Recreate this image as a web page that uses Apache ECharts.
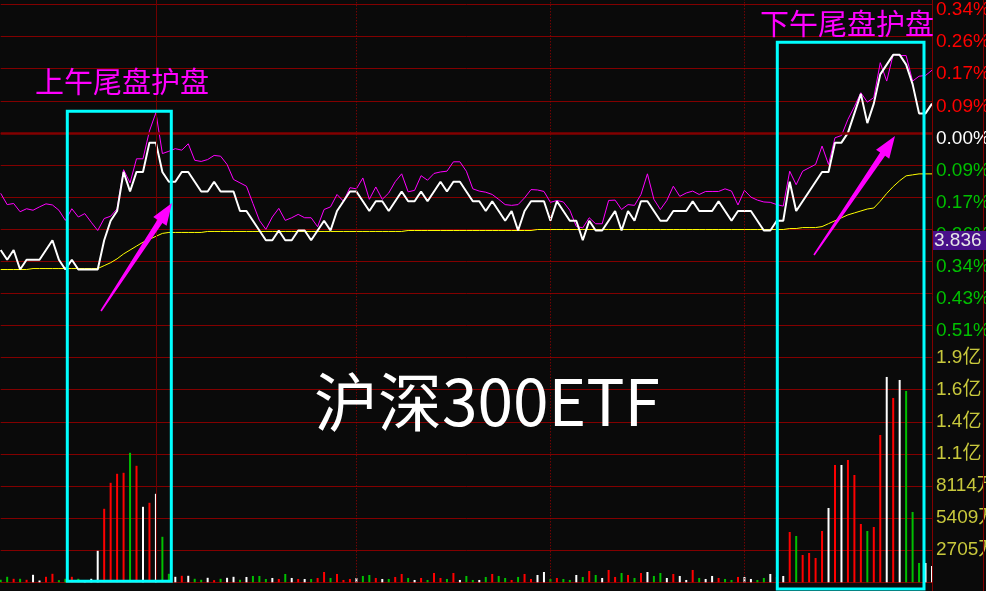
<!DOCTYPE html>
<html><head><meta charset="utf-8">
<script src="https://cdn.jsdelivr.net/npm/echarts@6/dist/echarts.min.js"></script>
<style>html,body{margin:0;padding:0;background:#0a0a0a;overflow:hidden}#c{width:986px;height:591px}</style>
</head><body><div id="c"></div>
<script>
// previous close of the ETF
const prevClose = 3.847;
// last price per minute (white)
const price = [3.835,3.834,3.835,3.833,3.834,3.834,3.834,3.835,3.836,3.834,
3.833,3.834,3.833,3.833,3.833,3.833,3.836,3.838,3.839,3.843,
3.841,3.843,3.843,3.846,3.846,3.843,3.842,3.842,3.843,3.843,
3.842,3.841,3.841,3.842,3.841,3.841,3.841,3.839,3.839,3.838,
3.837,3.836,3.836,3.837,3.836,3.836,3.837,3.837,3.836,3.837,
3.838,3.837,3.839,3.840,3.841,3.841,3.840,3.839,3.840,3.840,
3.839,3.840,3.841,3.840,3.840,3.841,3.840,3.841,3.842,3.841,
3.842,3.842,3.841,3.840,3.840,3.839,3.840,3.839,3.838,3.839,
3.837,3.839,3.840,3.840,3.840,3.838,3.840,3.839,3.838,3.838,
3.836,3.838,3.837,3.837,3.838,3.839,3.837,3.839,3.838,3.840,
3.840,3.839,3.838,3.838,3.839,3.839,3.839,3.840,3.839,3.839,
3.839,3.840,3.839,3.838,3.839,3.839,3.839,3.838,3.837,3.837,
3.838,3.838,3.842,3.839,3.840,3.841,3.842,3.843,3.843,3.846,
3.846,3.847,3.849,3.851,3.848,3.850,3.853,3.854,3.855,3.855,
3.854,3.852,3.849,3.849,3.850];
// average price (yellow)
const avgPrice = [3.8330,3.8330,3.8330,3.8330,3.8330,3.8331,3.8331,3.8331,3.8331,3.8331,
3.8331,3.8331,3.8331,3.8331,3.8331,3.8331,3.8334,3.8337,3.8341,3.8346,
3.8350,3.8354,3.8358,3.8361,3.8364,3.8367,3.8368,3.8368,3.8368,3.8368,
3.8368,3.8368,3.8369,3.8369,3.8369,3.8369,3.8369,3.8369,3.8369,3.8369,
3.8369,3.8369,3.8369,3.8369,3.8369,3.8369,3.8369,3.8369,3.8369,3.8369,
3.8369,3.8369,3.8369,3.8369,3.8369,3.8369,3.8369,3.8369,3.8369,3.8369,
3.8369,3.8369,3.8369,3.8370,3.8370,3.8370,3.8370,3.8370,3.8370,3.8370,
3.8370,3.8370,3.8370,3.8370,3.8370,3.8370,3.8370,3.8370,3.8370,3.8370,
3.8370,3.8370,3.8370,3.8371,3.8371,3.8371,3.8371,3.8371,3.8371,3.8371,
3.8371,3.8371,3.8371,3.8371,3.8371,3.8371,3.8371,3.8371,3.8371,3.8371,
3.8371,3.8371,3.8371,3.8371,3.8371,3.8371,3.8371,3.8371,3.8371,3.8371,
3.8371,3.8371,3.8371,3.8371,3.8371,3.8371,3.8371,3.8371,3.8371,3.8371,
3.8371,3.8371,3.8372,3.8372,3.8373,3.8373,3.8373,3.8374,3.8377,3.8380,
3.8383,3.8386,3.8388,3.8390,3.8392,3.8393,3.8400,3.8408,3.8415,3.8421,
3.8426,3.8427,3.8428,3.8428,3.8428];
// benchmark index change in % (magenta)
const indexPct = [-0.161,-0.191,-0.188,-0.210,-0.202,-0.206,-0.197,-0.189,-0.192,-0.206,
-0.233,-0.202,-0.224,-0.215,-0.238,-0.260,-0.228,-0.222,-0.202,-0.098,
-0.133,-0.069,-0.069,0.005,0.054,-0.055,-0.049,-0.042,-0.046,-0.029,
-0.073,-0.076,-0.071,-0.060,-0.062,-0.084,-0.124,-0.133,-0.142,-0.188,
-0.233,-0.257,-0.224,-0.201,-0.233,-0.226,-0.217,-0.226,-0.226,-0.250,
-0.204,-0.197,-0.164,-0.182,-0.146,-0.149,-0.120,-0.177,-0.144,-0.177,
-0.160,-0.130,-0.109,-0.157,-0.153,-0.114,-0.126,-0.108,-0.104,-0.102,
-0.077,-0.077,-0.102,-0.149,-0.155,-0.158,-0.164,-0.177,-0.191,-0.193,
-0.191,-0.173,-0.151,-0.152,-0.156,-0.185,-0.180,-0.184,-0.206,-0.249,
-0.253,-0.226,-0.242,-0.242,-0.180,-0.179,-0.204,-0.191,-0.193,-0.164,
-0.109,-0.177,-0.204,-0.180,-0.142,-0.169,-0.160,-0.155,-0.164,-0.156,
-0.156,-0.156,-0.149,-0.155,-0.192,-0.153,-0.171,-0.179,-0.184,-0.185,
-0.191,-0.195,-0.102,-0.138,-0.102,-0.093,-0.084,-0.035,-0.084,-0.013,
-0.007,0.036,0.070,0.107,0.082,0.094,0.187,0.138,0.209,0.206,
0.206,0.138,0.151,0.153,0.167];
// volume per minute, in 万
const volume = [211,463,295,295,211,632,150,463,716,180,
295,463,295,180,295,2654,6193,8384,9142,9226,
10912,9816,6362,6699,7457,3834,716,463,548,548,
295,211,379,180,295,379,463,211,450,534,
534,281,365,281,702,365,281,281,281,365,
870,365,702,197,281,365,534,618,365,281,
281,450,702,365,197,365,197,786,365,281,
786,197,534,197,197,450,702,534,365,197,
450,702,281,618,870,281,365,281,197,618,
450,955,618,365,1039,450,786,618,365,786,
870,534,786,365,702,534,197,1039,365,281,
534,365,281,197,450,450,281,197,365,702,
450,534,4240,3904,2303,2471,2050,4325,6263,9886,
9886,10307,9043,4915,4325,4662,12414,17302,15533,17048,
16123,5926,1629,1629,1376];
// 1 = up (red), -1 = down (green), 0 = flat (white)
const volDir = [-1,-1,1,-1,1,0,0,1,1,-1,
-1,1,-1,0,0,0,1,1,1,1,
-1,1,0,1,0,-1,-1,0,1,0,
-1,-1,0,1,-1,0,0,-1,0,-1,
-1,-1,0,1,-1,0,1,0,-1,1,
1,-1,1,1,1,0,-1,-1,1,0,
-1,1,1,-1,0,1,-1,1,1,-1,
1,0,-1,-1,0,-1,1,-1,-1,1,
-1,1,1,0,0,-1,1,-1,-1,0,
-1,1,-1,0,1,1,-1,1,-1,1,
0,-1,-1,0,1,0,0,1,-1,0,
0,1,-1,-1,1,0,0,-1,-1,0,
1,0,1,-1,1,1,1,1,0,1,
0,1,1,1,-1,1,1,0,1,0,
-1,-1,-1,0,0];
// axis settings (percent step and volume step in 万)
const pctStep = 0.0855;
const pctMinSteps = -6, pctMaxSteps = 4;
const volStep = 2704.6;
const volSteps = 7;
// special markers
const breakIndex = 24;              // midday break line
const halfHourIndex = [55, 85, 115]; // dotted half-hour lines
const markerPrice = '3.836';
const titleText = '沪深300ETF';
const noteAM = '上午尾盘护盘';
const notePM = '下午尾盘护盘';

const categories = price.map((_, i) => String(i));
const toPct = p => (p / prevClose - 1) * 100;

const chart = echarts.init(document.getElementById('c'), null, {renderer: 'canvas'});

const GRID_L = 0.7, GRID_R = 54, TOP = 4.5, ROW = 32.1;
const RED = '#ff0000', GREEN = '#00c000', WHITE = '#ffffff';
const GRIDC = '#820000';
const labelFont = '"Liberation Sans", Arial, "Noto Sans CJK SC"';
const LF = 19;

function arrow(x1, y1, x2, y2, hl, hw, w1, w2) {
  const dx = x2 - x1, dy = y2 - y1, L = Math.hypot(dx, dy);
  const ux = dx / L, uy = dy / L, nx = -uy, ny = ux;
  const bx = x2 - ux * hl, by = y2 - uy * hl;
  return [
    [x1 + nx * w1, y1 + ny * w1],
    [bx + nx * w2, by + ny * w2],
    [bx + nx * hw, by + ny * hw],
    [x2, y2],
    [bx - nx * hw, by - ny * hw],
    [bx - nx * w2, by - ny * w2],
    [x1 - nx * w1, y1 - ny * w1]
  ];
}

const gridBase = {left: GRID_L, right: GRID_R, containLabel: false, outerBoundsMode: 'none'};

const option = {
  animation: false,
  backgroundColor: '#0a0a0a',
  grid: [
    Object.assign({top: TOP, height: ROW * 10}, gridBase),
    Object.assign({top: TOP + ROW * 11, height: ROW * volSteps}, gridBase),
    Object.assign({top: 0, height: TOP + ROW * 18}, gridBase)
  ],
  xAxis: [0, 1, 2].map(g => ({
    type: 'category', gridIndex: g, data: categories, boundaryGap: false,
    axisLine: {show: false}, axisTick: {show: false}, axisLabel: {show: false}, splitLine: {show: false}
  })),
  yAxis: [
    {
      type: 'value', gridIndex: 0, position: 'right',
      min: pctMinSteps * pctStep, max: pctMaxSteps * pctStep, interval: pctStep,
      axisLine: {show: false}, axisTick: {show: false},
      splitLine: {show: true, lineStyle: {color: GRIDC, width: 1}},
      axisLabel: {
        show: true, inside: false, margin: 4, align: 'left', verticalAlign: 'middle',
        padding: [11, 0, 0, 0], showMinLabel: true, showMaxLabel: true,
        fontSize: LF, fontFamily: labelFont,
        formatter: v => {
          const s = Math.abs(v).toFixed(2) + '%';
          if (Math.abs(v) < 1e-6) return '{w|0.00%}';
          return v > 0 ? '{r|' + s + '}' : '{g|' + s + '}';
        },
        rich: {
          r: {color: RED, fontSize: LF, fontFamily: labelFont},
          g: {color: GREEN, fontSize: LF, fontFamily: labelFont},
          w: {color: WHITE, fontSize: LF, fontFamily: labelFont}
        }
      }
    },
    {
      type: 'value', gridIndex: 1, position: 'right',
      min: 0, max: volStep * volSteps, interval: volStep,
      axisLine: {show: false}, axisTick: {show: false},
      splitLine: {show: true, lineStyle: {color: GRIDC, width: 1}},
      axisLabel: {
        show: true, margin: 4, align: 'left', verticalAlign: 'middle',
        padding: [11, 0, 0, 0], showMinLabel: true, showMaxLabel: true,
        color: '#c8c83c', fontSize: LF, fontFamily: labelFont,
        formatter: v => {
          if (v < 1) return '';
          if (v >= 10000) return (v / 10000).toFixed(1) + '亿';
          return Math.round(v) + '万';
        }
      }
    },
    {type: 'value', gridIndex: 2, min: 0, max: 1, show: false}
  ],
  series: [
    {
      type: 'line', xAxisIndex: 2, yAxisIndex: 2, data: [], silent: true, z: 1,
      markLine: {
        silent: true, symbol: ['none', 'none'], label: {show: false},
        data: [{xAxis: breakIndex, lineStyle: {type: 'solid', color: '#700000', width: 1}}]
          .concat(halfHourIndex.map(i => ({xAxis: i, lineStyle: {type: [1, 2], color: '#a00000', width: 1}})))
      }
    },
    {
      type: 'line', xAxisIndex: 0, yAxisIndex: 0, data: [], silent: true, z: 1,
      markLine: {
        silent: true, symbol: ['none', 'none'], label: {show: false},
        data: [{yAxis: 0, lineStyle: {type: 'solid', color: GRIDC, width: 2.5}}]
      }
    },
    {
      name: 'index', type: 'line', xAxisIndex: 0, yAxisIndex: 0, data: indexPct,
      symbol: 'none', lineStyle: {color: '#ff00ff', width: 1}, z: 3
    },
    {
      name: 'avg', type: 'line', xAxisIndex: 0, yAxisIndex: 0, data: avgPrice.map(toPct),
      symbol: 'none', lineStyle: {color: '#ffff00', width: 1}, z: 3
    },
    {
      name: 'price', type: 'line', xAxisIndex: 0, yAxisIndex: 0, data: price.map(toPct),
      symbol: 'none', lineStyle: {color: WHITE, width: 2}, z: 4
    },
    {
      name: 'volume', type: 'bar', xAxisIndex: 1, yAxisIndex: 1, barWidth: 2,
      data: volume.map((v, i) => ({
        value: v,
        itemStyle: {color: volDir[i] > 0 ? RED : (volDir[i] < 0 ? GREEN : WHITE)}
      })),
      z: 3
    }
  ],
  graphic: [
    {type: 'line', z: 50, shape: {x1: 932.5, y1: 0, x2: 932.5, y2: 591}, style: {stroke: GRIDC, lineWidth: 1}},
    {type: 'line', z: 50, shape: {x1: 983.5, y1: 0, x2: 983.5, y2: 591}, style: {stroke: GRIDC, lineWidth: 1}},
    {type: 'rect', z: 60, shape: {x: 933, y: 231, width: 53, height: 19}, style: {fill: '#48108a'}},
    {type: 'text', z: 61, x: 934, y: 241, style: {text: markerPrice, fill: '#e6e6e6', font: '19px ' + labelFont, verticalAlign: 'middle', align: 'left'}},
    {type: 'rect', z: 70, shape: {x: 67.3, y: 111.3, width: 104, height: 470}, style: {fill: null, stroke: '#00ffff', lineWidth: 3}},
    {type: 'rect', z: 70, shape: {x: 777.3, y: 42.3, width: 146.7, height: 546.7}, style: {fill: null, stroke: '#00ffff', lineWidth: 3}},
    {type: 'polygon', z: 71, shape: {points: arrow(101, 311, 172, 203, 22, 8, 0.8, 3)}, style: {fill: '#ff00ff'}},
    {type: 'polygon', z: 71, shape: {points: arrow(814, 255, 895, 136, 22, 8, 0.8, 3)}, style: {fill: '#ff00ff'}},
    {type: 'text', z: 72, x: 35, y: 82, style: {text: noteAM, fill: '#ff00ff', font: '29px "Noto Sans CJK SC"', verticalAlign: 'middle', align: 'left'}},
    {type: 'text', z: 72, x: 760, y: 24, style: {text: notePM, fill: '#ff00ff', font: '29px "Noto Sans CJK SC"', verticalAlign: 'middle', align: 'left'}},
    {type: 'text', z: 72, x: 314, y: 402, style: {text: titleText, fill: '#ffffff', font: '64px "Noto Sans CJK SC"', verticalAlign: 'middle', align: 'left'}}
  ]
};
chart.setOption(option);
</script>
</body></html>
